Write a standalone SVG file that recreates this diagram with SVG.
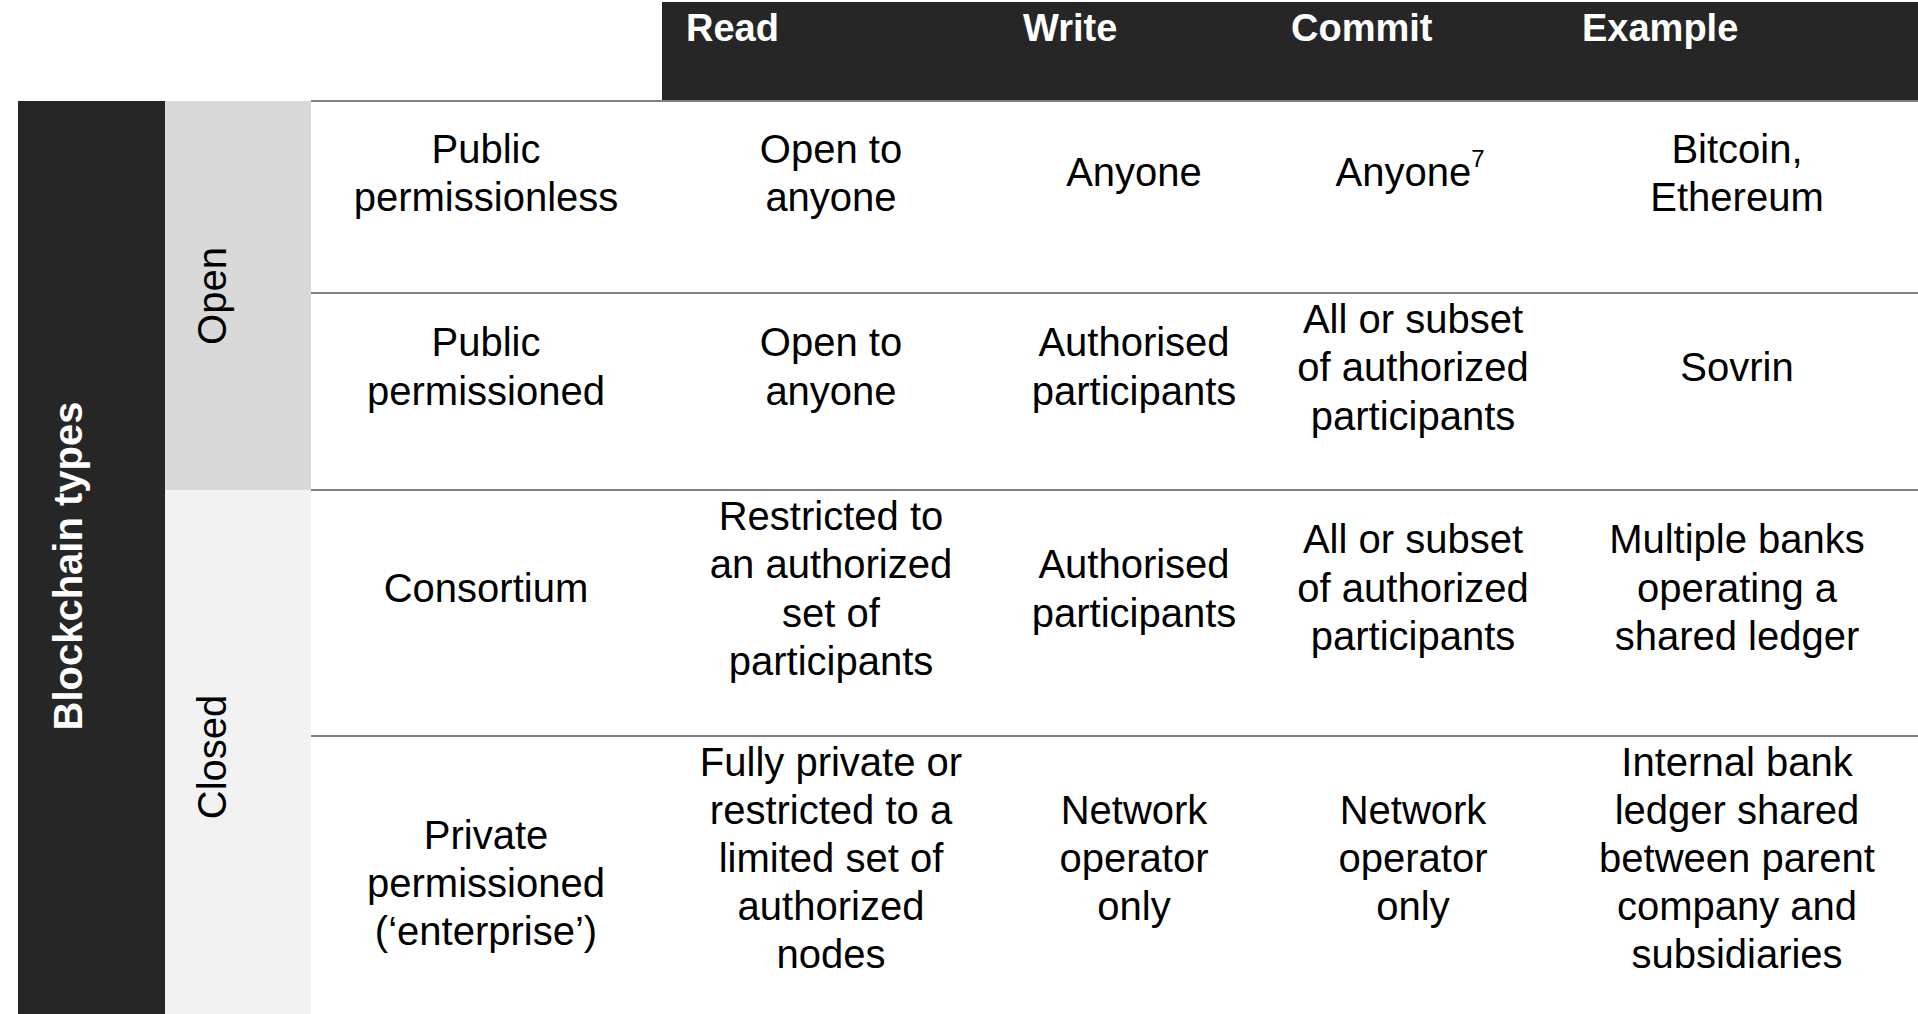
<svg xmlns="http://www.w3.org/2000/svg" width="1918" height="1014" viewBox="0 0 1918 1014">
<style>
text{font-family:"Liberation Sans",Arial,sans-serif;font-size:40px;fill:#000;text-anchor:middle;dominant-baseline:central}
.h{fill:#fff;font-weight:bold;font-size:38px;text-anchor:start}
.v{fill:#fff;font-weight:bold}
line{stroke:#808080;stroke-width:2}
</style>
<rect width="1918" height="1014" fill="#fff"/>
<g id="header">
<rect x="662" y="2" width="1256" height="99" fill="#262626"/>
<text class="h" x="686" y="28">Read</text>
<text class="h" x="1023" y="28">Write</text>
<text class="h" x="1291" y="28">Commit</text>
<text class="h" x="1582" y="28">Example</text>
</g>
<g id="side">
<rect x="18" y="101" width="147" height="913" fill="#262626"/>
<rect x="165" y="101" width="146" height="389" fill="#d9d9d9"/>
<rect x="165" y="490" width="146" height="524" fill="#f2f2f2"/>
<text class="v" transform="translate(68,566) rotate(-90)">Blockchain types</text>
<text transform="translate(212,296) rotate(-90)">Open</text>
<text transform="translate(212,757) rotate(-90)">Closed</text>
</g>
<g id="lines">
<line x1="311" y1="101" x2="1918" y2="101"/>
<line x1="311" y1="293" x2="1918" y2="293"/>
<line x1="311" y1="490" x2="1918" y2="490"/>
<line x1="311" y1="736" x2="1918" y2="736"/>
</g>
<g id="row1">
<text x="486" y="149">Public</text><text x="486" y="197">permissionless</text>
<text x="831" y="149">Open to</text><text x="831" y="197">anyone</text>
<text x="1134" y="172">Anyone</text>
<text x="1410" y="172">Anyone<tspan font-size="24" dy="-14">7</tspan></text>
<text x="1737" y="149">Bitcoin,</text><text x="1737" y="197">Ethereum</text>
</g>
<g id="row2">
<text x="486" y="342">Public</text><text x="486" y="391">permissioned</text>
<text x="831" y="342">Open to</text><text x="831" y="391">anyone</text>
<text x="1134" y="342">Authorised</text><text x="1134" y="391">participants</text>
<text x="1413" y="319">All or subset</text><text x="1413" y="367">of authorized</text><text x="1413" y="416">participants</text>
<text x="1737" y="367">Sovrin</text>
</g>
<g id="row3">
<text x="486" y="588">Consortium</text>
<text x="831" y="516">Restricted to</text><text x="831" y="564">an authorized</text><text x="831" y="613">set of</text><text x="831" y="661">participants</text>
<text x="1134" y="564">Authorised</text><text x="1134" y="613">participants</text>
<text x="1413" y="539">All or subset</text><text x="1413" y="588">of authorized</text><text x="1413" y="636">participants</text>
<text x="1737" y="539">Multiple banks</text><text x="1737" y="588">operating a</text><text x="1737" y="636">shared ledger</text>
</g>
<g id="row4">
<text x="486" y="835">Private</text><text x="486" y="883">permissioned</text><text x="486" y="931">(‘enterprise’)</text>
<text x="831" y="762">Fully private or</text><text x="831" y="810">restricted to a</text><text x="831" y="858">limited set of</text><text x="831" y="906">authorized</text><text x="831" y="954">nodes</text>
<text x="1134" y="810">Network</text><text x="1134" y="858">operator</text><text x="1134" y="906">only</text>
<text x="1413" y="810">Network</text><text x="1413" y="858">operator</text><text x="1413" y="906">only</text>
<text x="1737" y="762">Internal bank</text><text x="1737" y="810">ledger shared</text><text x="1737" y="858">between parent</text><text x="1737" y="906">company and</text><text x="1737" y="954">subsidiaries</text>
</g>
</svg>
